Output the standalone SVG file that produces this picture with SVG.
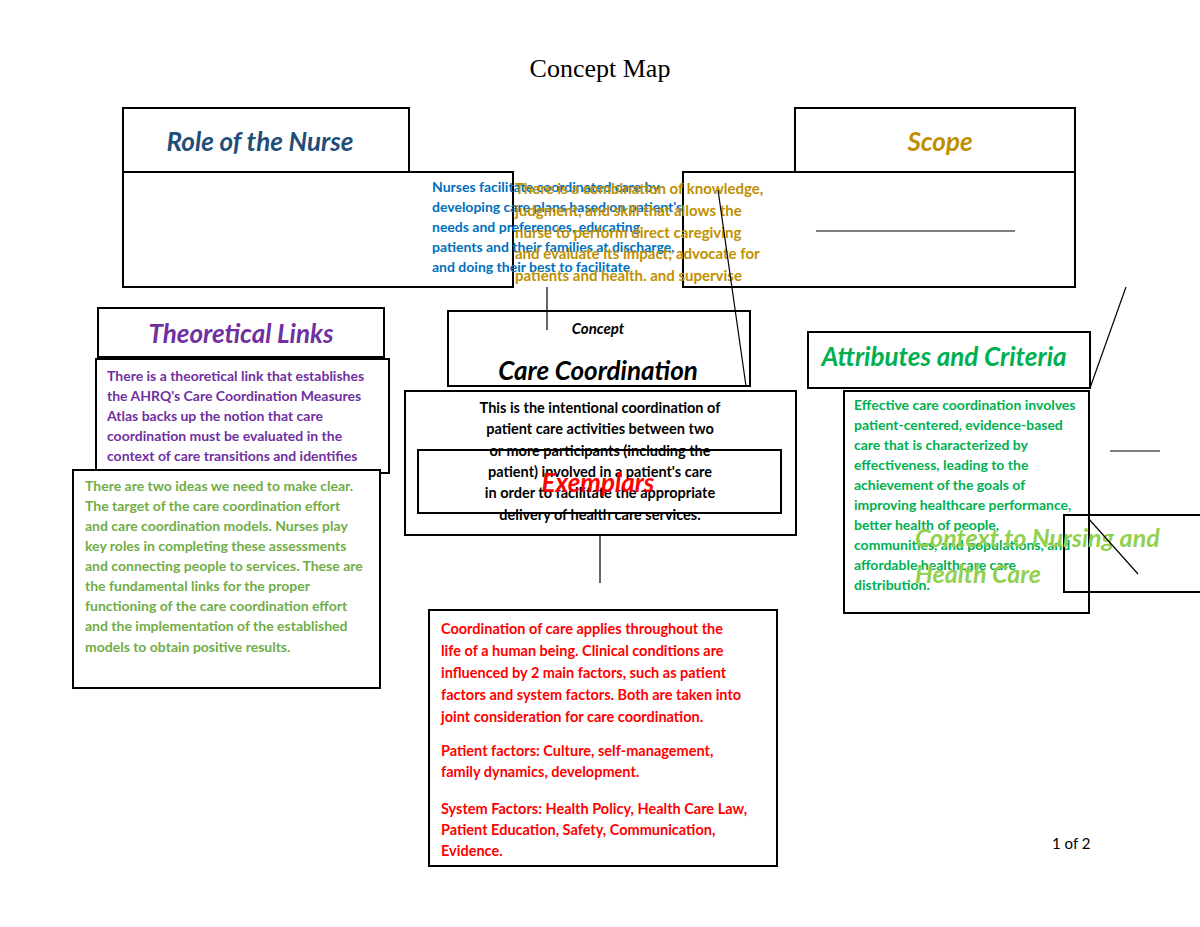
<svg xmlns="http://www.w3.org/2000/svg" width="1200" height="927" viewBox="0 0 1200 927">
<style>
.b{fill:#fff;stroke:#000;stroke-width:2}
.h{font-family:Lato,"Open Sans",sans-serif;font-weight:bold;font-style:italic;font-size:26px;text-anchor:middle}
.t{font-family:Lato,"Open Sans",sans-serif;font-weight:bold;font-size:14px}
.c{stroke:#000;stroke-width:1.2;fill:none}
</style>
<rect width="1200" height="927" fill="#fff"/>
<text x="600" y="77" text-anchor="middle" font-family="Liberation Serif,serif" font-size="26">Concept Map</text>
<g id="role"><rect class="b" x="123" y="108" width="286" height="64"/><text class="h" x="260" y="151" fill="#1f4e79">Role of the Nurse</text></g>
<g id="role-body"><rect class="b" x="123" y="172" width="390" height="115"/></g>
<g id="scope"><rect class="b" x="795" y="108" width="280" height="64"/><text class="h" x="940" y="151" fill="#bf8f00">Scope</text></g>
<g id="scope-body"><rect class="b" x="683" y="172" width="392" height="115"/></g>
<g id="role-text" class="t" fill="#0070c0"><text x="432" y="192">Nurses facilitate coordinated care by</text><text x="432" y="212">developing care plans based on patient's</text><text x="432" y="232">needs and preferences, educating</text><text x="432" y="252">patients and their families at discharge,</text><text x="432" y="272">and doing their best to facilitate</text></g>
<g id="scope-text" class="t" fill="#c09000" style="font-size:15px"><text x="515" y="194">There is a combination of knowledge,</text><text x="515" y="216">judgment, and skill that allows the</text><text x="515" y="238">nurse to perform direct caregiving</text><text x="515" y="259">and evaluate its impact; advocate for</text><text x="515" y="281">patients and health. and supervise</text></g>
<g id="concept"><rect class="b" x="448" y="311" width="302" height="75"/><text x="598" y="334" text-anchor="middle" font-family="Lato,sans-serif" font-weight="bold" font-style="italic" font-size="15">Concept</text><text class="h" x="598" y="380" fill="#000">Care Coordination</text></g>
<g id="theory"><rect class="b" x="98" y="308" width="286" height="49"/><text class="h" x="241" y="343" fill="#7030a0">Theoretical Links</text></g>
<g id="theory-body"><rect class="b" x="96" y="359" width="293" height="114"/><g class="t" fill="#7030a0"><text x="107" y="381">There is a theoretical link that establishes</text><text x="107" y="401">the AHRQ's Care Coordination Measures</text><text x="107" y="421">Atlas backs up the notion that care</text><text x="107" y="441">coordination must be evaluated in the</text><text x="107" y="461">context of care transitions and identifies</text></g></g>
<g id="ideas"><rect class="b" x="73" y="470" width="307" height="218"/><g class="t" fill="#70ad47"><text x="85" y="491">There are two ideas we need to make clear.</text><text x="85" y="511">The target of the care coordination effort</text><text x="85" y="531">and care coordination models. Nurses play</text><text x="85" y="551">key roles in completing these assessments</text><text x="85" y="571">and connecting people to services. These are</text><text x="85" y="591">the fundamental links for the proper</text><text x="85" y="611">functioning of the care coordination effort</text><text x="85" y="631">and the implementation of the established</text><text x="85" y="652">models to obtain positive results.</text></g></g>
<g id="definition"><rect class="b" x="405" y="391" width="391" height="144"/><g class="t" fill="#000" text-anchor="middle" style="font-size:14.5px"><text x="600" y="413">This is the intentional coordination of</text><text x="600" y="434">patient care activities between two</text><text x="600" y="456">or more participants (including the</text><text x="600" y="477">patient) involved in a patient's care</text><text x="600" y="498">in order to facilitate the appropriate</text><text x="600" y="520">delivery of health care services.</text></g></g>
<g id="exemplars"><rect x="418" y="450" width="363" height="63" fill="none" stroke="#000" stroke-width="2"/><text class="h" x="598" y="492" fill="#ff0000">Exemplars</text></g>
<g id="exemplar-body"><rect class="b" x="429" y="610" width="348" height="256"/><g class="t" fill="#ff0000" style="font-size:14.5px"><text x="441" y="634">Coordination of care applies throughout the</text><text x="441" y="656">life of a human being. Clinical conditions are</text><text x="441" y="678">influenced by 2 main factors, such as patient</text><text x="441" y="700">factors and system factors. Both are taken into</text><text x="441" y="722">joint consideration for care coordination.</text><text x="441" y="756">Patient factors: Culture, self-management,</text><text x="441" y="777">family dynamics, development.</text><text x="441" y="814">System Factors: Health Policy, Health Care Law,</text><text x="441" y="835">Patient Education, Safety, Communication,</text><text x="441" y="856">Evidence.</text></g></g>
<g id="attributes"><rect class="b" x="808" y="332" width="282" height="56"/><text class="h" x="944" y="366" fill="#00b050">Attributes and Criteria</text></g>
<g id="attributes-body"><rect class="b" x="844" y="391" width="245" height="222"/><g class="t" fill="#00b050"><text x="854" y="410">Effective care coordination involves</text><text x="854" y="430">patient-centered, evidence-based</text><text x="854" y="450">care that is characterized by</text><text x="854" y="470">effectiveness, leading to the</text><text x="854" y="490">achievement of the goals of</text><text x="854" y="510">improving healthcare performance,</text><text x="854" y="530">better health of people,</text><text x="854" y="550">communities, and populations, and</text><text x="854" y="570">affordable healthcare care</text><text x="854" y="590">distribution.</text></g></g>
<g id="context"><rect x="1064" y="515" width="140" height="77" fill="none" stroke="#000" stroke-width="2"/><text x="915" y="547" font-family="Lato,sans-serif" font-weight="bold" font-style="italic" font-size="25" fill="#92d050">Context to Nursing and</text><text x="915" y="583" font-family="Lato,sans-serif" font-weight="bold" font-style="italic" font-size="25" fill="#92d050">Health Care</text></g>
<g id="connectors">
<line class="c" x1="816" y1="231" x2="1015" y2="231"/>
<line class="c" x1="547" y1="287" x2="547" y2="330"/>
<line class="c" x1="718" y1="190" x2="746" y2="386"/>
<line class="c" x1="600" y1="535" x2="600" y2="583"/>
<line class="c" x1="1126" y1="287" x2="1090" y2="388"/>
<line class="c" x1="1110" y1="451" x2="1160" y2="451"/>
<line class="c" x1="1088" y1="518" x2="1138" y2="574"/>
</g>
<text x="1052" y="849" font-family="Lato,sans-serif" font-size="15">1 of 2</text>
</svg>
